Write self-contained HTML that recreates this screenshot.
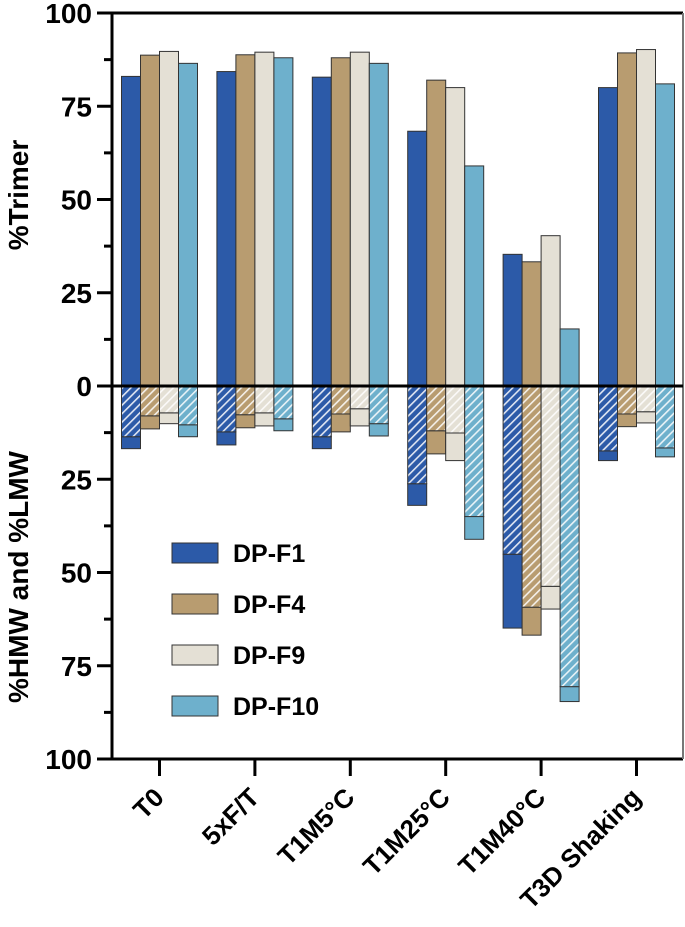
<!DOCTYPE html>
<html><head><meta charset="utf-8"><style>
body{margin:0;background:#fff}
text{font-family:"Liberation Sans",Arial,sans-serif;font-weight:bold;fill:#000}
</style></head><body>
<svg id="c" width="685" height="922" viewBox="0 0 685 922">
<defs>
<pattern id="h0" patternUnits="userSpaceOnUse" width="6" height="6" patternTransform="rotate(45)"><rect width="6" height="6" fill="#2c5aa8"/><rect x="0" width="1.6" height="6" fill="#fff" opacity="0.85"/></pattern>
<pattern id="h1" patternUnits="userSpaceOnUse" width="6" height="6" patternTransform="rotate(45)"><rect width="6" height="6" fill="#b89c70"/><rect x="0" width="1.6" height="6" fill="#fff" opacity="0.85"/></pattern>
<pattern id="h2" patternUnits="userSpaceOnUse" width="6" height="6" patternTransform="rotate(45)"><rect width="6" height="6" fill="#e4e0d5"/><rect x="0" width="1.6" height="6" fill="#fff" opacity="0.85"/></pattern>
<pattern id="h3" patternUnits="userSpaceOnUse" width="6" height="6" patternTransform="rotate(45)"><rect width="6" height="6" fill="#6eb0cc"/><rect x="0" width="1.6" height="6" fill="#fff" opacity="0.85"/></pattern>
</defs>
<g id="bars"></g>
<g id="axes"></g>
</svg>
<script>
const categories=["T0","5xF/T","T1M5°C","T1M25°C","T1M40°C","T3D Shaking"];
const seriesNames=["DP-F1","DP-F4","DP-F9","DP-F10"];
const trimerF1=[83,84.3,82.8,68.3,35.3,80];
const trimerF4=[88.7,88.8,88,82,33.3,89.3];
const trimerF9=[89.7,89.5,89.5,80,40.3,90.2];
const trimerF10=[86.5,88,86.5,59,15.3,81];
const hmwF1=[13.6,12.3,13.6,26.2,45.1,17.4];
const hmwF4=[8,7.7,7.5,12,59.3,7.5];
const hmwF9=[7.2,7.2,6.1,12.6,53.7,6.9];
const hmwF10=[10.4,8.8,10.1,35,80.6,16.6];
const totalF1=[16.8,15.8,16.8,32,64.9,20];
const totalF4=[11.5,11.2,12.3,18.2,66.8,10.9];
const totalF9=[10.1,10.7,10.7,20,59.8,9.9];
const totalF10=[13.6,12,13.4,41.1,84.6,19];
const yTickVals=[100,75,50,25,0,-25,-50,-75,-100];
const yTickLabels=["100","75","50","25","0","25","50","75","100"];

const trim=[trimerF1,trimerF4,trimerF9,trimerF10];
const hmw=[hmwF1,hmwF4,hmwF9,hmwF10];
const tot=[totalF1,totalF4,totalF9,totalF10];
const colors=["#2c5aa8","#b89c70","#e4e0d5","#6eb0cc"];
const NS="http://www.w3.org/2000/svg";
const x0=112,x1=683,yTop=13,yZero=386;
const ppu=(yZero-yTop)/100;
function Y(v){return yZero-v*ppu;}
function gx(i){return 159.5+i*95.4;}
const bw=19;
function mk(tag,attrs,parent){const e=document.createElementNS(NS,tag);for(const k in attrs)e.setAttribute(k,attrs[k]);parent.appendChild(e);return e;}
const bars=document.getElementById('bars');
const axes=document.getElementById('axes');
categories.forEach((c,i)=>{
  for(let s=0;s<4;s++){
    const bx=gx(i)-2*bw+s*bw;
    const r=mk('rect',{x:bx,y:Y(trim[s][i]),width:bw,height:trim[s][i]*ppu,fill:colors[s],stroke:'#333','stroke-width':1},bars);
    
    
    const l=mk('rect',{x:bx,y:Y(-hmw[s][i]),width:bw,height:(tot[s][i]-hmw[s][i])*ppu,fill:colors[s],stroke:'#333','stroke-width':1},bars);
    
    
    const h=mk('rect',{x:bx,y:yZero,width:bw,height:hmw[s][i]*ppu,fill:'url(#h'+s+')',stroke:'#333','stroke-width':1},bars);
    
    
  }
  const t=mk('line',{x1:gx(i),x2:gx(i),y1:Y(-100),y2:Y(-100)+17,stroke:'#000','stroke-width':3},axes);
  
  
  const ax=gx(i)+6, ay=Y(-100)+40;
  const lb=mk('text',{x:ax,y:ay,'font-size':26,'text-anchor':'end',transform:'rotate(-45 '+ax+' '+ay+')'},axes);
  lb.textContent=c;
  
  
});
mk('line',{x1:x0,x2:x0,y1:yTop,y2:Y(-100)+1.5,stroke:'#000','stroke-width':3},axes);
mk('line',{x1:x0-1.5,x2:x1,y1:yTop,y2:yTop,stroke:'#000','stroke-width':3},axes);
mk('line',{x1:x0-1.5,x2:x1,y1:Y(-100),y2:Y(-100),stroke:'#000','stroke-width':3},axes);
mk('line',{x1:x1,x2:x1,y1:yTop,y2:Y(-100),stroke:'#777','stroke-width':2},axes);
mk('line',{x1:x0-15,x2:x1,y1:yZero,y2:yZero,stroke:'#000','stroke-width':3},axes);
yTickVals.forEach((v,k)=>{
  const t=mk('line',{x1:x0-15,x2:x0,y1:Y(v),y2:Y(v),stroke:'#000','stroke-width':3},axes);
  
  
  const lb=mk('text',{x:x0-20,y:Y(v)+10,'font-size':28,'text-anchor':'end'},axes);
  lb.textContent=yTickLabels[k];
  
  
  if(k<yTickVals.length-1){
    const m=mk('line',{x1:x0-8,x2:x0,y1:Y(v-12.5),y2:Y(v-12.5),stroke:'#000','stroke-width':3},axes);
    
    
  }
});
const t1=mk('text',{x:0,y:0,'font-size':28,'text-anchor':'middle',transform:'translate(28 195) rotate(-90)'},axes);
t1.textContent='%Trimer';


const t2=mk('text',{x:0,y:0,'font-size':28,'text-anchor':'middle',transform:'translate(28 577) rotate(-90)'},axes);
t2.textContent='%HMW and %LMW';


seriesNames.forEach((n,s)=>{
  const yy=553+s*51;
  const r=mk('rect',{x:172,y:yy-10,width:46,height:20,fill:colors[s],stroke:'#333','stroke-width':1},axes);
  
  
  const tx=mk('text',{x:233,y:yy+9,'font-size':25},axes);
  tx.textContent=n;
  
  
});
</script>
</body></html>
